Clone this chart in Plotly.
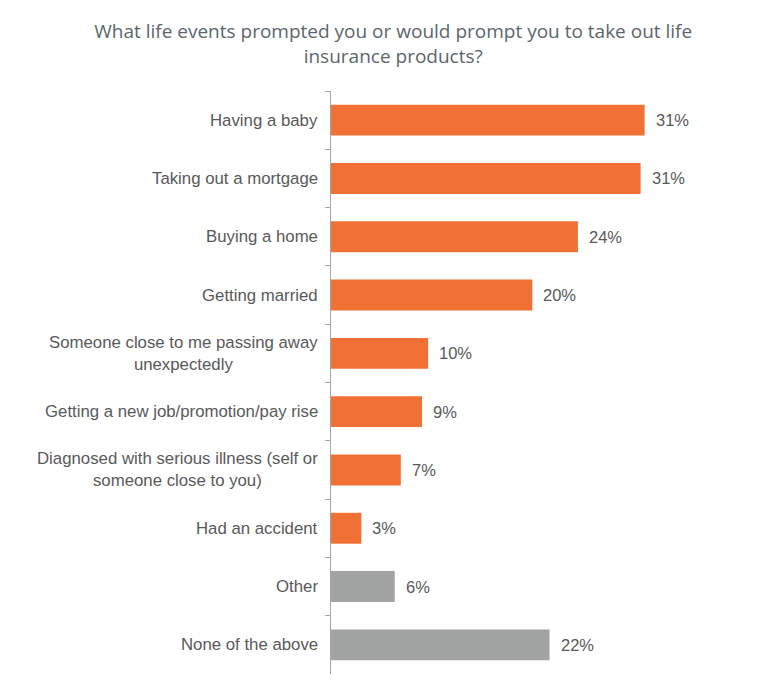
import plotly.graph_objects as go

categories = [
    "Having a baby",
    "Taking out a mortgage",
    "Buying a home",
    "Getting married",
    "Someone close to me passing away<br>unexpectedly",
    "Getting a new job/promotion/pay rise",
    "Diagnosed with serious illness (self or<br>someone close to you)",
    "Had an accident",
    "Other",
    "None of the above",
]
values = [31.0, 30.6, 24.4, 19.9, 9.6, 9.0, 6.9, 3.0, 6.3, 21.6]
value_labels = ["31%", "31%", "24%", "20%", "10%", "9%", "7%", "3%", "6%", "22%"]
group = ["event"] * 8 + ["other", "other"]

ORANGE = "#F07036"
GRAY = "#A2A4A4"
TEXT = "#595959"
colors = [ORANGE if g == "event" else GRAY for g in group]
FONT = "Liberation Sans"

fig = go.Figure()
fig.add_trace(go.Bar(
    y=categories,
    x=values,
    orientation="h",
    marker=dict(color=colors, line=dict(width=0)),
    width=0.53,
    hoverinfo="skip",
))

annotations = []
for c, v, lab in zip(categories, values, value_labels):
    annotations.append(dict(
        x=v, y=c, xref="x", yref="y", text=lab, showarrow=False,
        xanchor="left", xshift=9, font=dict(family=FONT, size=16.5, color=TEXT),
    ))
    annotations.append(dict(
        x=0, y=c, xref="paper", yref="y", text=c, showarrow=False,
        xanchor="right", xshift=-11, align="center",
        font=dict(family=FONT, size=16.8, color=TEXT),
    ))

fig.update_layout(
    width=768, height=690,
    margin=dict(l=331, r=7, t=91, b=16),
    paper_bgcolor="white", plot_bgcolor="white",
    showlegend=False,
    title=dict(
        text="What life events prompted you or would prompt you to take out life<br>insurance products?",
        x=0.512, xanchor="center", y=0.945, yanchor="middle",
        font=dict(family="Open Sans", size=19, color="#5B666E", weight=500),
    ),
    xaxis=dict(range=[0, 42.5], visible=False, fixedrange=True),
    yaxis=dict(
        autorange="reversed", showticklabels=False, showline=True, linecolor="#A6A6A6",
        linewidth=1, ticks="outside", ticklen=5, tickcolor="#A6A6A6", tickson="boundaries",
        showgrid=False, zeroline=False,
    ),
    annotations=annotations,
)

fig.write_html("out.html")
